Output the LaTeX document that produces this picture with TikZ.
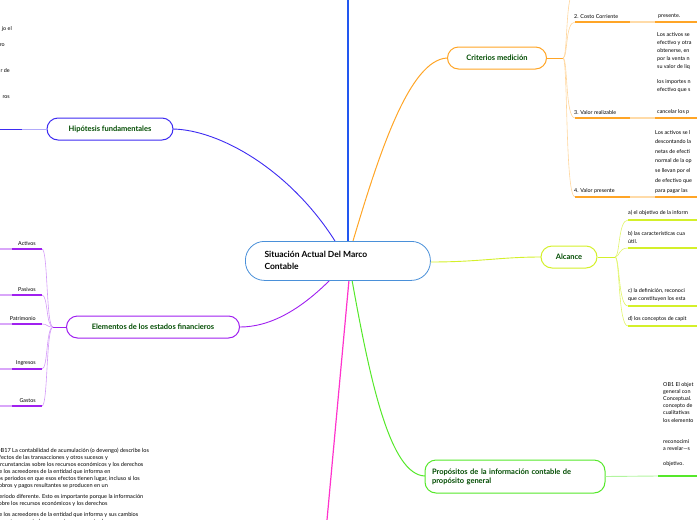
\documentclass[tikz,border=0pt]{standalone}
\usepackage{fontspec}
\setmainfont{Lato}
\begin{document}
\begin{tikzpicture}[x=1pt,y=-1pt,
  tiny/.style={font=\fontsize{5.4}{8}\selectfont,inner sep=0,align=left},
  main/.style={draw,rounded corners=11,line width=1pt,fill=white,font=\bfseries\fontsize{7.5}{9}\selectfont,text=green!30!black,inner sep=0},
  sub/.style={line width=0.6pt},
  ul/.style={line width=1.3pt}]
\useasboundingbox (0,0) rectangle (697,520);
\clip (0,0) rectangle (697,520);
\definecolor{cblue}{HTML}{3D2BF2}
\definecolor{cpurp}{HTML}{A020F0}
\definecolor{corng}{HTML}{FFA526}
\definecolor{cyel}{HTML}{D4F02A}
\definecolor{cgrn}{HTML}{55E82A}
\definecolor{cmag}{HTML}{FF33CC}
\definecolor{ccen}{HTML}{4A90D9}
\definecolor{cvb}{HTML}{2257F0}
% connectors from center
\coordinate (ctop) at (348,241);
\coordinate (cbot) at (347,280);
\draw[cvb,line width=1.2pt] (ctop) -- (348,0);
\draw[corng,line width=1pt] (353,241) .. controls (380,150) and (410,60) .. (447,58);
\draw[cblue,line width=0.9pt] (335,241) .. controls (290,170) and (220,130) .. (173,129);
\draw[cpurp,line width=0.9pt] (330,280) .. controls (300,310) and (270,327) .. (240,327);
\draw[cyel,line width=0.9pt] (430,262) .. controls (480,262) and (500,257) .. (541,257);
\draw[cgrn,line width=1pt] (352,280) .. controls (370,380) and (390,475) .. (425,476);
\draw[cmag,line width=1.2pt] (349,280) -- (327,520);
% central
\node[draw=ccen,line width=0.8pt,rounded corners=19,fill=white,minimum width=185,minimum height=39,anchor=north west,inner sep=0] (cen) at (245,241) {};
\node[anchor=west,align=left,font=\bfseries\fontsize{8.5}{12.5}\selectfont] (centxt) at (261,260.5) {Situación Actual Del Marco\\Contable};
% Hipotesis
\node[main,draw=cblue,minimum width=126,minimum height=22] (hip) at (110,129) {Hipótesis fundamentales};
\draw[cblue!40,line width=0.8pt] (hip.west) -- (22,129);
\draw[cblue,line width=1pt] (22,129) -- (0,129);
\node[tiny,anchor=east] at (12,29) {jo el};
\node[tiny,anchor=east] at (5,45) {ro};
\node[tiny,anchor=east] at (10,71) {r de};
\node[tiny,anchor=east] at (10,97) {ros};
% Criterios
\node[main,draw=corng,minimum width=99,minimum height=22] (cri) at (497,58) {Criterios medición};
\coordinate (cj) at (563,58);
\draw[corng,line width=0.9pt] (cri.east) -- (cj);
\foreach \y in {-10,22,118,197}{\draw[corng!45,sub] (cj) .. controls (568,58) and (565,\y) .. (575,\y);}
\foreach \y/\t in {22/2. Costo Corriente,118/3. Valor realizable,197/4. Valor presente}{
  \draw[corng,ul] (575,\y) -- (630,\y);
  \draw[corng!40,ul] (630,\y) -- (655,\y);
  \draw[corng,ul] (655,\y) -- (697,\y);
  \node[tiny,anchor=south west] at (574,\y-3) {\t};}
\node[tiny,anchor=south west] at (659,-1) {liquidar en p};
\node[tiny,anchor=south west] at (658,19) {presente.};
\node[tiny,anchor=north west,font=\fontsize{5.4}{8.2}\selectfont] at (657,32) {Los activos se\\efectivo y otra\\obtenerse, en\\por la venta n\\su valor de liq\\[6pt]los importes n\\efectivo que s};
\node[tiny,anchor=south west] at (657,115) {cancelar los p};
\node[tiny,anchor=north west,font=\fontsize{5.4}{9.6}\selectfont] at (655,130) {Los activos se l\\descontando la\\netas de efecti\\normal de la op\\se llevan por el\\de efectivo que};
\node[tiny,anchor=south west] at (655,194) {para pagar las};
% Elementos
\node[main,draw=cpurp,minimum width=173,minimum height=22] (ele) at (153,327) {Elementos de los estados financieros};
\coordinate (ej) at (53,327);
\draw[cpurp,line width=0.9pt] (ele.west) -- (ej);
\foreach \y/\t in {249/Activos,295/Pasivos,324/Patrimonio,369/Ingresos,406/Gastos}{
  \draw[cpurp!45,sub] (ej) .. controls (46,327) and (48,\y) .. (42,\y);
  \draw[cpurp,ul] (42,\y) -- (12,\y);
  \draw[cpurp!40,ul] (12,\y) -- (0,\y);
  \node[tiny,anchor=south east] at (36,\y-3) {\t};}
\node[tiny,anchor=north west,font=\fontsize{5.6}{7}\selectfont] at (-4,448) {OB17 La contabilidad de acumulación (o devengo) describe los\\efectos de las transacciones y otros sucesos y\\circunstancias sobre los recursos económicos y los derechos\\de los acreedores de la entidad que informa en\\los periodos en que esos efectos tienen lugar, incluso si los\\cobros y pagos resultantes se producen en un\\[4pt]periodo diferente. Esto es importante porque la información\\sobre los recursos económicos y los derechos\\[4pt]de los acreedores de la entidad que informa y sus cambios\\durante un periodo proporciona una mejor base};
% Alcance
\node[main,draw=cyel,minimum width=56,minimum height=22] (alc) at (569,257) {Alcance};
\coordinate (aj) at (615,257);
\draw[cyel,line width=0.9pt] (alc.east) -- (aj);
\foreach \y in {220,248,306,326}{
  \draw[cyel!70,sub] (aj) .. controls (620,257) and (618,\y) .. (628,\y);
  \draw[cyel,ul] (628,\y) -- (697,\y);}
\node[tiny,anchor=south west] at (628,216) {a) el objetivo de la inform};
\node[tiny,anchor=south west] at (628,244) {b) las características cua\\útil.};
\node[tiny,anchor=south west] at (628,302) {c) la definición, reconoci\\que constituyen los esta};
\node[tiny,anchor=south west] at (628,322) {d) los conceptos de capit};
% Propositos
\node[main,draw=cgrn,minimum width=180,minimum height=33,align=left,text width=166] (pro) at (515,476.5) {Propósitos de la información contable de\\propósito general};
\draw[cgrn!45,line width=0.9pt] (pro.east) -- (658,476);
\draw[cgrn,line width=1.3pt] (658,476) -- (697,476);
\node[tiny,anchor=north west,font=\fontsize{5.4}{7.2}\selectfont] at (663,382) {OB1 El objet\\general con\\Conceptual.\\concepto de\\cualitativas\\los elemento\\[14pt]reconocimi\\a revelar—s\\[8pt]objetivo.};
\end{tikzpicture}
\end{document}
